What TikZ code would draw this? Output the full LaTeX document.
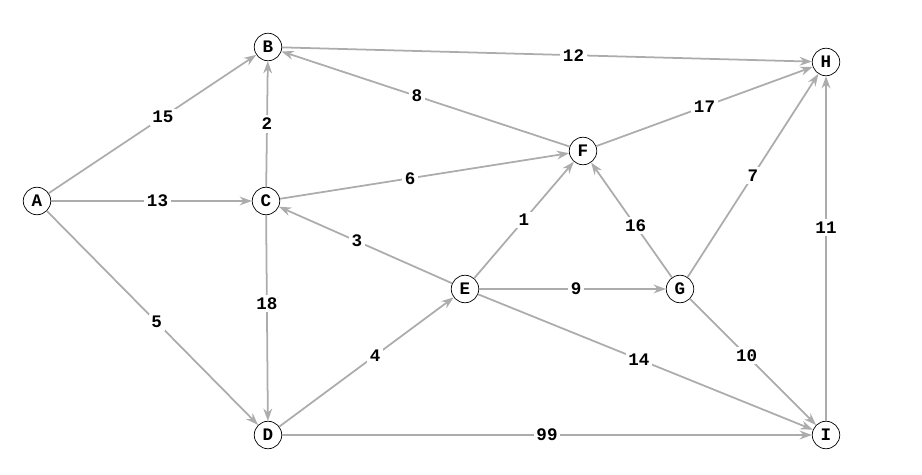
\documentclass[tikz,border=0pt]{standalone}
\usepackage{fontspec}
\setmonofont{Liberation Mono}
\usetikzlibrary{arrows.meta}
\begin{document}
\begin{tikzpicture}[
	x=0.02cm, y=-0.02cm,
	font=\ttfamily\bfseries,
	>={Stealth[length=7pt,width=5pt]},
	vertex/.style = {
		draw,
		thin,
		fill = white,
		circle,
		inner sep = 0pt,
		minimum size = 0.55cm
	},
	edge/.style = {->, draw=gray!65, line width=1pt},
	weight/.style = {fill=white, inner sep=1.5pt}
	]
	\useasboundingbox (0,0) rectangle (922,475);
	\node[vertex] (A) at (37,201) {A};
	\node[vertex] (B) at (268,47) {B};
	\node[vertex] (C) at (266,201) {C};
	\node[vertex] (D) at (268,435) {D};
	\node[vertex] (E) at (465,289) {E};
	\node[vertex] (F) at (583,151) {F};
	\node[vertex] (G) at (680,289) {G};
	\node[vertex] (H) at (826,62) {H};
	\node[vertex] (I) at (826,435) {I};

	\draw[edge] (A) -- node[weight, pos=0.55] {15} (B);
	\draw[edge] (A) -- node[weight, pos=0.53] {13} (C);
	\draw[edge] (A) -- node[weight, pos=0.52] {5} (D);
	\draw[edge] (C) -- node[weight] {2} (B);
	\draw[edge] (C) -- node[weight, pos=0.45] {6} (F);
	\draw[edge] (C) -- node[weight, pos=0.43] {18} (D);
	\draw[edge] (B) -- node[weight, pos=0.55] {12} (H);
	\draw[edge] (F) -- node[weight, pos=0.53] {8} (B);
	\draw[edge] (F) -- node[weight] {17} (H);
	\draw[edge] (E) -- node[weight, pos=0.55] {3} (C);
	\draw[edge] (E) -- node[weight] {1} (F);
	\draw[edge] (E) -- node[weight, pos=0.52] {9} (G);
	\draw[edge] (E) -- node[weight, pos=0.48] {14} (I);
	\draw[edge] (D) -- node[weight, pos=0.55] {4} (E);
	\draw[edge] (D) -- node[weight, pos=0.5] {99} (I);
	\draw[edge] (G) -- node[weight, pos=0.45] {16} (F);
	\draw[edge] (G) -- node[weight] {7} (H);
	\draw[edge] (G) -- node[weight, pos=0.45] {10} (I);
	\draw[edge] (I) -- node[weight, pos=0.56] {11} (H);
\end{tikzpicture}
\end{document}
